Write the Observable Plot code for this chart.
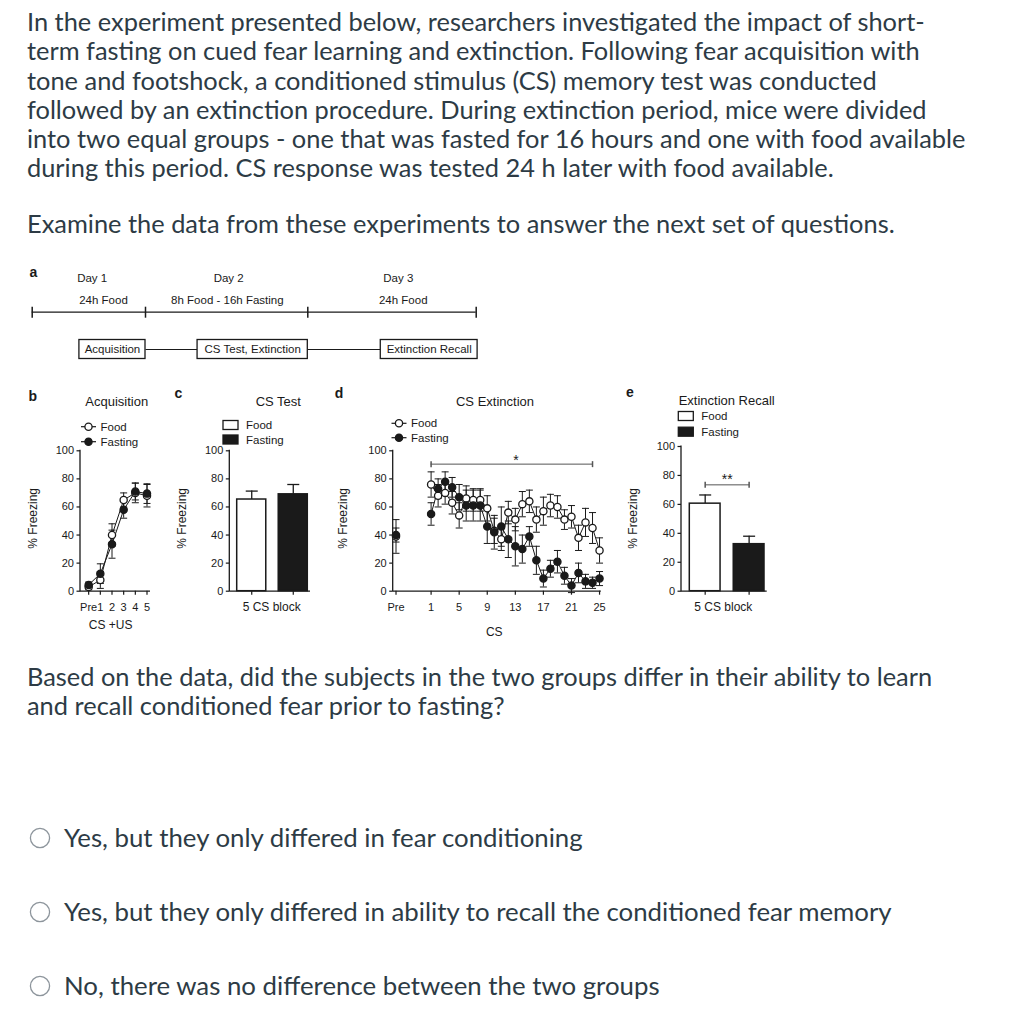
<!DOCTYPE html>
<html>
<head>
<meta charset="utf-8">
<script src="https://cdn.jsdelivr.net/npm/d3@7"></script>
<script src="https://cdn.jsdelivr.net/npm/@observablehq/plot@0.6"></script>
<style>
html,body{margin:0;padding:0;background:#fff;}
#page{position:relative;width:1016px;height:1024px;overflow:hidden;background:#fff;}
.q{position:absolute;left:27px;margin:0;font-family:Lato,"Noto Sans",sans-serif;font-size:25.4px;line-height:29.3px;color:#2d3b45;white-space:nowrap;}
.opt{position:absolute;left:64px;height:29.3px;font-family:Lato,"Noto Sans",sans-serif;font-size:25.8px;line-height:29.3px;color:#2d3b45;white-space:nowrap;}
.radio{position:absolute;left:29px;width:22px;height:22px;}
.panel{position:absolute;}
.panel svg{overflow:visible;}
#overlay{position:absolute;left:0;top:0;pointer-events:none;}
</style>
</head>
<body>
<div id="page">
<div class="q" style="top:7px">In the experiment presented below, researchers investigated the impact of short-<br>term fasting on cued fear learning and extinction. Following fear acquisition with<br>tone and footshock, a conditioned stimulus (CS) memory test was conducted<br>followed by an extinction procedure. During extinction period, mice were divided<br>into two equal groups - one that was fasted for 16 hours and one with food available<br>during this period. CS response was tested 24 h later with food available.</div>
<div class="q" style="top:209px">Examine the data from these experiments to answer the next set of questions.</div>
<div class="q" style="top:662px">Based on the data, did the subjects in the two groups differ in their ability to learn<br>and recall conditioned fear prior to fasting?</div>
<svg class="radio" style="top:827px" viewBox="0 0 22 22"><circle cx="11" cy="11" r="9.6" fill="#fff" stroke="#8d959c" stroke-width="1.3"/></svg>
<div class="opt" style="top:823px">Yes, but they only differed in fear conditioning</div>
<svg class="radio" style="top:901px" viewBox="0 0 22 22"><circle cx="11" cy="11" r="9.6" fill="#fff" stroke="#8d959c" stroke-width="1.3"/></svg>
<div class="opt" style="top:897px">Yes, but they only differed in ability to recall the conditioned fear memory</div>
<svg class="radio" style="top:975px" viewBox="0 0 22 22"><circle cx="11" cy="11" r="9.6" fill="#fff" stroke="#8d959c" stroke-width="1.3"/></svg>
<div class="opt" style="top:971px">No, there was no difference between the two groups</div>
<div id="pa" class="panel" style="left:0;top:240px"></div>
<div id="pb" class="panel" style="left:20px;top:385px"></div>
<div id="pc" class="panel" style="left:170px;top:385px"></div>
<div id="pd" class="panel" style="left:330px;top:385px"></div>
<div id="pe" class="panel" style="left:620px;top:385px"></div>
</div>
<script>
// ---------- DATA ----------
// Panel a: timeline schematic (hours)
const dayBounds = [0, 24, 48, 72];
const dayLabels = ["Day 1", "Day 2", "Day 3"];
const dayLabelAt = [12.7, 36.3, 60.9];
const dietLabels = ["24h Food", "8h Food - 16h Fasting", "24h Food"];
const dietLabelAt = [15.1, 36.1, 61.6];
const stageLabels = ["Acquisition", "CS Test, Extinction", "Extinction Recall"];
const stageFrom = [10.0, 31.7, 58.4];
const stageTo = [24, 48, 72.2];

// Panel b: acquisition (% freezing, mean and SEM)
const acqSteps = [0, 1, 2, 3, 4, 5];
const acqTickLabels = ["Pre", "1", "2", "3", "4", "5"];
const acqFood = [3, 8, 40, 65, 70, 68];
const acqFoodSem = [2, 6, 8, 5, 7, 8];
const acqFast = [4.5, 12.5, 33.5, 58, 71, 69.5];
const acqFastSem = [2, 7, 10, 6, 6, 7];

// Panel c: CS test
const groups = ["Food", "Fasting"];
const testMean = [65.3, 69];
const testSem = [6, 7];

// Panel d: CS extinction
const extPreAt = -4;
const extTicks = [-4, 1, 5, 9, 13, 17, 21, 25];
const extCS = [1,2,3,4,5,6,7,8,9,10,11,12,13,14,15,16,17,18,19,20,21,22,23,24,25];
const extFoodPre = 39, extFoodPreSem = 12;
const extFastPre = 40, extFastPreSem = 5;
const extFood = [76,68,70,63,54,66,65,65,59,43,37,56,51,62,64,51,57,61,60,51,53,38,49,45,29];
const extFoodSem = [9,8,8,8,9,9,8,8,9,9,8,8,8,9,8,9,10,8,8,7,8,9,10,11,9];
const extFast = [55,73,78,74,67,61,61,61,46,42,46,37,32,30,39,22,9,16,21,11,4,13,7,6,9];
const extFastSem = [8,7,7,7,9,11,11,11,12,12,14,13,14,10,7,10,6,6,8,6,5,7,5,4,5];
const extSigFrom = 1, extSigTo = 24, extSigY = 90.5;

// Panel e: extinction recall
const recallMean = [60.5, 32.5];
const recallSem = [6, 5.5];
const recallSigY = 73.5;

// ---------- HELPERS ----------
const FONT = '"Liberation Sans", Arial, Helvetica, sans-serif';
const INK = "#1a1a1a";
const capSymbol = {draw(ctx, size) { const r = Math.sqrt(size / Math.PI); ctx.moveTo(-r, 0); ctx.lineTo(r, 0); }};
const vSymbol = {draw(ctx, size) { const r = Math.sqrt(size / Math.PI); ctx.moveTo(0, -r); ctx.lineTo(0, r); }};
const yAxisLine = (index, scales, values, dims) => {
  const l = document.createElementNS("http://www.w3.org/2000/svg", "line");
  l.setAttribute("x1", dims.marginLeft); l.setAttribute("x2", dims.marginLeft);
  l.setAttribute("y1", dims.marginTop - 0.5); l.setAttribute("y2", dims.height - dims.marginBottom + 0.6);
  l.setAttribute("stroke", INK); l.setAttribute("stroke-width", 1.3);
  return l;
};
const style = {fontFamily: FONT, fontSize: "11px", color: INK, background: "transparent", overflow: "visible"};
const yAxis = () => Plot.axisY({ticks: [0, 20, 40, 60, 80, 100], tickSize: 3.5, tickPadding: 3, label: null, fontSize: 11, strokeWidth: 1.2});

function seriesRows(xs, food, foodSem, fast, fastSem) {
  const rows = [];
  xs.forEach((x, i) => rows.push({g: "Food", x, y: food[i], e: foodSem[i]}));
  xs.forEach((x, i) => rows.push({g: "Fasting", x, y: fast[i], e: fastSem[i]}));
  return rows;
}
function errorMarks(rows, capR) {
  return [
    Plot.ruleX(rows, {x: "x", y1: d => d.y - d.e, y2: d => d.y + d.e, stroke: INK, strokeWidth: 1}),
    Plot.dot(rows, {x: "x", y: d => d.y + d.e, symbol: capSymbol, r: capR, stroke: INK, fill: "none", strokeWidth: 1}),
    Plot.dot(rows, {x: "x", y: d => d.y - d.e, symbol: capSymbol, r: capR, stroke: INK, fill: "none", strokeWidth: 1})
  ];
}
function pointMarks(rows) {
  return [
    Plot.dot(rows.filter(d => d.g === "Food"), {x: "x", y: "y", r: 3.6, fill: "white", stroke: INK, strokeWidth: 1.3}),
    Plot.dot(rows.filter(d => d.g === "Fasting"), {x: "x", y: "y", r: 3.6, fill: INK, stroke: INK, strokeWidth: 1.3})
  ];
}

// ---------- PANEL a ----------
// the schematic is not drawn to scale: each day gets its own drawn length
const schematic = d3.scaleLinear().domain(dayBounds).range([0, 113.3, 275.6, 444]);
const rowY = {day: 37.7, diet: 60, line: 71.7, stage: 109};
const stageHalf = 9.5;
const stageRows = stageLabels.map((s, i) => ({s, a: schematic(stageFrom[i]), b: schematic(stageTo[i])}));
const connectors = stageRows.slice(1).map((d, i) => ({a: stageRows[i].b, b: d.a}));
document.getElementById("pa").append(Plot.plot({
  width: 500, height: 130, margin: 0, style,
  x: {domain: [0, 444], range: [31.7, 475.7], axis: null},
  y: {domain: [0, 130], range: [0, 130], axis: null},
  marks: [
    Plot.text(dayLabels, {x: (d, i) => schematic(dayLabelAt[i]), y: () => rowY.day, fontSize: 11.5, fill: INK}),
    Plot.text(dietLabels, {x: (d, i) => schematic(dietLabelAt[i]), y: () => rowY.diet, fontSize: 11.5, fill: INK}),
    Plot.ruleY([rowY.line], {x1: schematic(dayBounds[0]), x2: schematic(dayBounds[3]), stroke: INK, strokeWidth: 1.3}),
    Plot.dot(dayBounds, {x: d => schematic(d), y: () => rowY.line, symbol: vSymbol, r: 5.5, stroke: INK, strokeWidth: 1.5, fill: "none"}),
    Plot.link(connectors, {x1: "a", x2: "b", y1: () => rowY.stage, y2: () => rowY.stage, stroke: INK, strokeWidth: 1.2}),
    Plot.rect(stageRows, {x1: "a", x2: "b", y1: () => rowY.stage - stageHalf, y2: () => rowY.stage + stageHalf, fill: "white", stroke: INK, strokeWidth: 1.3}),
    Plot.text(stageRows, {x: d => (d.a + d.b) / 2, y: () => rowY.stage, text: "s", fontSize: 11.5, fill: INK})
  ]
}));

// ---------- PANEL b ----------
const acqRows = seriesRows(acqSteps, acqFood, acqFoodSem, acqFast, acqFastSem);
document.getElementById("pb").append(Plot.plot({
  width: 150, height: 250, marginLeft: 60, marginRight: 20, marginTop: 65.3, marginBottom: 44.3, style,
  x: {domain: [-0.7, 5.3]},
  y: {domain: [0, 100]},
  marks: [
    yAxis(),
    Plot.axisX({ticks: acqSteps, tickFormat: d => acqTickLabels[d], tickSize: 4, tickPadding: 8, label: null, fontSize: 11, strokeWidth: 1.2}),
    Plot.ruleY([0], {stroke: INK, strokeWidth: 1.3}),
    yAxisLine,
    ...errorMarks(acqRows, 3.5),
    Plot.line(acqRows, {x: "x", y: "y", z: "g", stroke: INK, strokeWidth: 1}),
    ...pointMarks(acqRows)
  ]
}));

// ---------- PANEL c ----------
const testRows = groups.map((g, i) => ({g, v: testMean[i], e: testSem[i]}));
function barPanel(rows, opts) {
  const marks = [
    yAxis(),
    Plot.axisX({tickSize: 4, tickFormat: () => "", label: null, strokeWidth: 1.2}),
    Plot.ruleX(rows, {x: "g", y1: "v", y2: d => d.v + d.e, stroke: INK, strokeWidth: 1.3}),
    Plot.dot(rows, {x: "g", y: d => d.v + d.e, symbol: capSymbol, r: 6, stroke: INK, fill: "none", strokeWidth: 1.3}),
    Plot.barY(rows.filter(d => d.g === "Food"), {x: "g", y: "v", fill: "white", stroke: INK, strokeWidth: 1.5}),
    Plot.barY(rows.filter(d => d.g === "Fasting"), {x: "g", y: "v", fill: INK, stroke: INK, strokeWidth: 1.5}),
    Plot.ruleY([0], {stroke: INK, strokeWidth: 1.3}),
    yAxisLine,
    ...(opts.extra || [])
  ];
  return Plot.plot({
    width: opts.width, height: opts.height, marginLeft: opts.ml, marginRight: opts.mr, marginTop: opts.mt, marginBottom: opts.mb, style,
    x: {type: "band", domain: groups, range: opts.xr, paddingInner: 0.3, paddingOuter: 0, round: false},
    y: {domain: [0, 100]},
    marks
  });
}
document.getElementById("pc").append(barPanel(testRows, {width: 160, height: 240, ml: 59.3, mr: 20, mt: 65.3, mb: 34.3, xr: [66.7, 137.3]}));

// ---------- PANEL d ----------
const extRows = seriesRows(extCS, extFood, extFoodSem, extFast, extFastSem);
const extPreRows = [{g: "Food", x: extPreAt, y: extFoodPre, e: extFoodPreSem}, {g: "Fasting", x: extPreAt, y: extFastPre, e: extFastPreSem}];
const extAll = [...extPreRows, ...extRows];
document.getElementById("pd").append(Plot.plot({
  width: 290, height: 250, marginLeft: 62.7, marginRight: 19.2, marginTop: 65.3, marginBottom: 44.3, style,
  x: {domain: [-4.4, 25.25]},
  y: {domain: [0, 100]},
  marks: [
    yAxis(),
    Plot.axisX({ticks: extTicks, tickFormat: d => d === extPreAt ? "Pre" : String(d), tickSize: 4, tickPadding: 8, label: null, fontSize: 11, strokeWidth: 1.2}),
    Plot.ruleY([0], {stroke: INK, strokeWidth: 1.3}),
    yAxisLine,
    Plot.ruleY([extSigY], {x1: extSigFrom, x2: extSigTo, stroke: "#555", strokeWidth: 1}),
    Plot.dot([extSigFrom, extSigTo], {x: d => d, y: () => extSigY, symbol: vSymbol, r: 3, stroke: "#555", fill: "none"}),
    Plot.text(["*"], {x: () => (extSigFrom + extSigTo) / 2 + 0.6, y: () => extSigY, dy: -4, fontSize: 14, fill: INK}),
    ...errorMarks(extAll, 3.5),
    Plot.line(extRows, {x: "x", y: "y", z: "g", stroke: INK, strokeWidth: 1}),
    ...pointMarks(extAll)
  ]
}));

// ---------- PANEL e ----------
const recallRows = groups.map((g, i) => ({g, v: recallMean[i], e: recallSem[i]}));
document.getElementById("pe").append(barPanel(recallRows, {
  width: 180, height: 240, ml: 61, mr: 33.3, mt: 61, mb: 34.3, xr: [69.3, 144],
  extra: [
    Plot.link([{a: groups[0], b: groups[1]}], {x1: "a", x2: "b", y1: () => recallSigY, y2: () => recallSigY, stroke: "#555", strokeWidth: 1}),
    Plot.dot(groups, {x: d => d, y: () => recallSigY, symbol: vSymbol, r: 3, stroke: "#555", fill: "none"}),
    Plot.text(["**"], {x: () => groups[0], y: () => recallSigY, dx: 22, dy: -5.5, fontSize: 14, fill: INK})
  ]
}));

// ---------- OVERLAY: titles, letters, legends, axis titles ----------
const svg = d3.select("#page").append("svg").attr("id", "overlay").attr("width", 1016).attr("height", 1024)
  .style("font-family", FONT).attr("fill", INK);
function txt(x, y, s, size, opts = {}) {
  const t = svg.append("text").attr("x", x).attr("y", y).attr("dominant-baseline", "central")
    .attr("text-anchor", opts.anchor || "middle").attr("font-size", size).text(s);
  if (opts.bold) t.attr("font-weight", "bold");
  if (opts.rotate) t.attr("transform", `rotate(-90,${x},${y})`);
  return t;
}
[["a", 33.3, 271.7], ["b", 32.7, 395.5], ["c", 178.3, 393.3], ["d", 339, 392.5], ["e", 630, 392]]
  .forEach(([s, x, y]) => txt(x, y, s, 14, {bold: true}));
[["Acquisition", 116.7, 401.7], ["CS Test", 278.3, 401.7], ["CS Extinction", 495, 401.7], ["Extinction Recall", 726.7, 400]]
  .forEach(([s, x, y]) => txt(x, y, s, 13));
[33.3, 181.7, 343.3, 633.3].forEach(x => txt(x, 518.3, "% Freezing", 12, {rotate: true}));
[["CS +US", 110.7, 625], ["5 CS block", 271.7, 606.7], ["CS", 494.3, 631.7], ["5 CS block", 723.3, 606.7]]
  .forEach(([s, x, y]) => txt(x, y, s, 12));
// line legends (b, d)
function lineLegend(x0, y, label, filled) {
  svg.append("line").attr("x1", x0).attr("x2", x0 + 15).attr("y1", y).attr("y2", y).attr("stroke", INK).attr("stroke-width", 1.2);
  svg.append("circle").attr("cx", x0 + 7.5).attr("cy", y).attr("r", 3.6).attr("fill", filled ? INK : "white").attr("stroke", INK).attr("stroke-width", 1.3);
  txt(x0 + 19.5, y, label, 11.5, {anchor: "start"});
}
lineLegend(81, 426.7, groups[0], false); lineLegend(81, 441.7, groups[1], true);
lineLegend(391.5, 423.3, groups[0], false); lineLegend(391.5, 437.7, groups[1], true);
// box legends (c, e)
function boxLegend(x0, y, label, filled) {
  svg.append("rect").attr("x", x0).attr("y", y - 4.5).attr("width", 15).attr("height", 9).attr("fill", filled ? INK : "white").attr("stroke", INK).attr("stroke-width", 1.3);
  txt(x0 + 23, y, label, 11.5, {anchor: "start"});
}
boxLegend(223, 425, groups[0], false); boxLegend(223, 439.5, groups[1], true);
boxLegend(678.3, 416, groups[0], false); boxLegend(678.3, 431.7, groups[1], true);
</script>
</body>
</html>
